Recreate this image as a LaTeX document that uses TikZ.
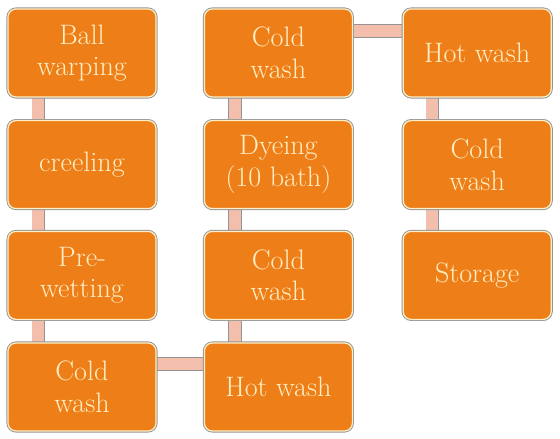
\documentclass[tikz,border=0pt]{standalone}
\usetikzlibrary{backgrounds}
\definecolor{boxorange}{RGB}{238,127,24}
\definecolor{boxcream}{RGB}{255,238,196}
\definecolor{linkpink}{RGB}{244,190,172}
\tikzset{
  stage/.style={rectangle, rounded corners=0.2cm, fill=boxorange, draw=boxcream,
    line width=0.9pt, preaction={draw=gray!85, line width=2.2pt},
    minimum width=3.7cm, minimum height=2.2cm, align=center,
    text=boxcream, font=\fontsize{20}{22.5}\selectfont},
  link/.style={draw=gray!85, line width=0.5pt, double=linkpink, double distance=0.3cm}
}
\begin{document}
\begin{tikzpicture}
\useasboundingbox (0,0) rectangle (14,10.975);
\node[stage] (ball) at (2.05,9.65) {Ball\\warping};
\node[stage] (creel) at (2.05,6.86) {creeling};
\node[stage] (prewet) at (2.05,4.09) {Pre-\\wetting};
\node[stage] (coldA) at (2.05,1.3) {Cold\\wash};
\node[stage] (hotA) at (6.96,1.3) {Hot wash};
\node[stage] (coldB) at (6.96,4.09) {Cold\\wash};
\node[stage] (dye) at (6.96,6.86) {Dyeing\\(10 bath)};
\node[stage] (coldC) at (6.96,9.65) {Cold\\wash};
\node[stage] (hotB) at (11.93,9.65) {Hot wash};
\node[stage] (coldD) at (11.93,6.86) {Cold\\wash};
\node[stage] (store) at (11.93,4.09) {Storage};

\begin{scope}[on background layer]
\draw[link] ([xshift=-1.09cm]ball.south) -- ([xshift=-1.09cm]creel.north);
\draw[link] ([xshift=-1.09cm]creel.south) -- ([xshift=-1.09cm]prewet.north);
\draw[link] ([xshift=-1.09cm]prewet.south) -- ([xshift=-1.09cm]coldA.north);
\draw[link] ([yshift=0.57cm]coldA.east) -- ([yshift=0.57cm]hotA.west);
\draw[link] ([xshift=-1.09cm]hotA.north) -- ([xshift=-1.09cm]coldB.south);
\draw[link] ([xshift=-1.09cm]coldB.north) -- ([xshift=-1.09cm]dye.south);
\draw[link] ([xshift=-1.09cm]dye.north) -- ([xshift=-1.09cm]coldC.south);
\draw[link] ([yshift=0.55cm]coldC.east) -- ([yshift=0.55cm]hotB.west);
\draw[link] ([xshift=-1.12cm]hotB.south) -- ([xshift=-1.12cm]coldD.north);
\draw[link] ([xshift=-1.12cm]coldD.south) -- ([xshift=-1.12cm]store.north);
\end{scope}
\end{tikzpicture}
\end{document}
